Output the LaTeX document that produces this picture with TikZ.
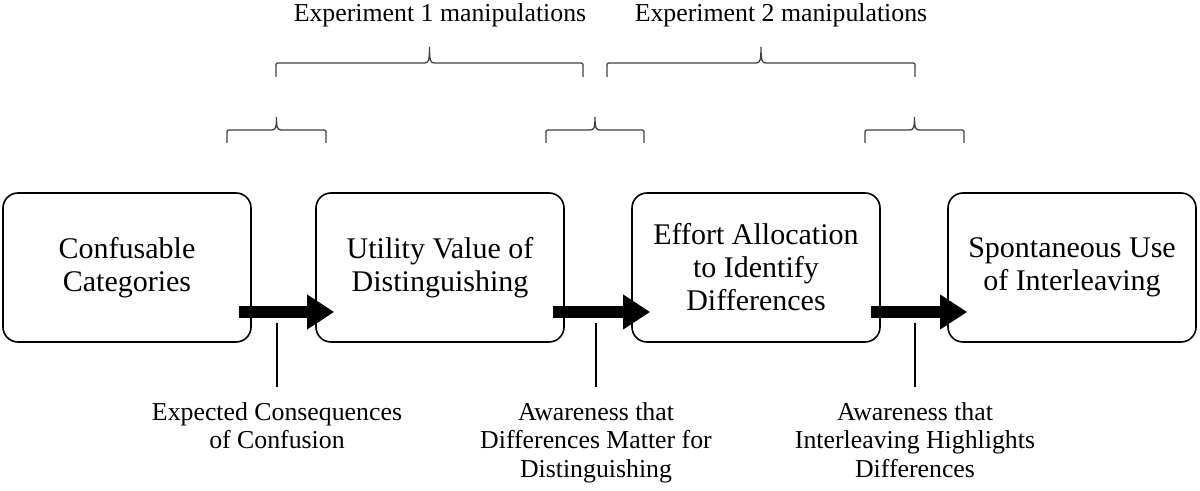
\documentclass[tikz,border=0pt]{standalone}
\usepackage{fontspec}
\setmainfont{Liberation Serif}
\usetikzlibrary{arrows.meta,calc}
% #1 left x, #2 right x, #3 end y, #4 flat y, #5 tip y
\newcommand\curlybrace[5]{%
  \pgfmathsetmacro\bxm{(#1+#2)/2}%
  \draw[bracestyle] (#1,#3) -- (#1,#4+4) .. controls (#1,#4) .. (#1+4,#4)
    -- (\bxm-5,#4) .. controls (\bxm-1,#4) and (\bxm,#4-2) .. (\bxm,#5)
    .. controls (\bxm,#4-2) and (\bxm+1,#4) .. (\bxm+5,#4)
    -- (#2-4,#4) .. controls (#2,#4) .. (#2,#4+4) -- (#2,#3);}
\begin{document}
\begin{tikzpicture}[x=0.5pt,y=-0.5pt,
  box/.style={draw, line width=0.8pt, rounded corners=7.5pt, minimum width=124pt,
    minimum height=74.5pt, align=center, font=\fontsize{15}{16.5}\selectfont, inner sep=0pt},
  lab/.style={align=center, font=\fontsize{12.9}{14.3}\selectfont, inner xsep=0pt, inner ysep=7.5pt},
  toplab/.style={font=\fontsize{12.9}{14.3}\selectfont, inner sep=0pt},
  bigarrow/.style={line width=6pt, -{Triangle[length=13.5pt,width=16.5pt]}},
  conn/.style={line width=0.7pt},
  bracestyle/.style={line width=0.65pt, draw=black!75},
]
\useasboundingbox (0,0) rectangle (1200,491);

% boxes
\node[box] (b1) at (127,267.5) {Confusable\\Categories};
\node[box] (b2) at (440,267.5) {Utility Value of\\Distinguishing};
\node[box] (b3) at (756,267.5) {Effort Allocation\\to Identify\\Differences};
\node[box] (b4) at (1072,267.5) {Spontaneous Use\\of Interleaving};

% thick arrows
\draw[bigarrow] ([shift={(-13,44.5)}]b1.east) -- ([shift={(19,44.5)}]b2.west);
\draw[bigarrow] ([shift={(-12,44.5)}]b2.east) -- ([shift={(19,44.5)}]b3.west);
\draw[bigarrow] ([shift={(-10,44.5)}]b3.east) -- ([shift={(20,44.5)}]b4.west);

% lower labels
\node[lab, anchor=north] (l1) at (277,387) {Expected Consequences\\of Confusion};
\node[lab, anchor=north] (l2) at (596,387) {Awareness that\\Differences Matter for\\Distinguishing};
\node[lab, anchor=north] (l3) at (915,387) {Awareness that\\Interleaving Highlights\\Differences};
\coordinate (t1) at (277,323);
\coordinate (t2) at (596,323);
\coordinate (t3) at (915,323);
\draw[conn] (t1) -- (l1.north);
\draw[conn] (t2) -- (l2.north);
\draw[conn] (t3) -- (l3.north);

% small braces
\curlybrace{227}{326}{143}{130}{117}
\curlybrace{546}{644}{143}{130}{117}
\curlybrace{865}{964}{143}{130}{117}

% big braces
\curlybrace{276}{583}{77}{63}{47}
\curlybrace{607}{915}{77}{63}{47}

% top labels
\node[toplab, anchor=base] (e1) at (440,22) {Experiment 1 manipulations};
\node[toplab, anchor=base] (e2) at (781,22) {Experiment 2 manipulations};
\end{tikzpicture}
\end{document}
